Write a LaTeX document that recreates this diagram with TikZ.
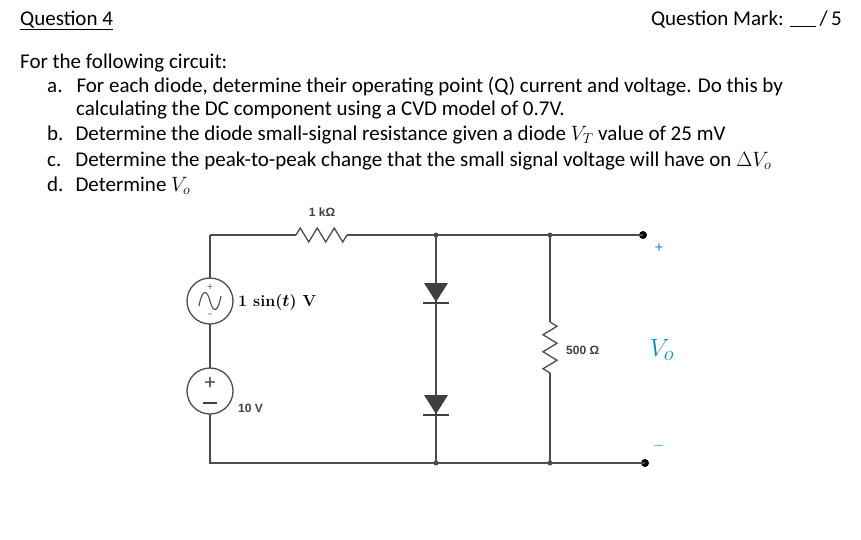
\documentclass[tikz,border=0pt]{standalone}
\usepackage{bm}
\usepackage{fontspec}
\setmainfont{Carlito}
\newfontfamily\arialf{Liberation Sans}
\newfontfamily\lmr{Latin Modern Roman}
\usetikzlibrary{decorations.pathmorphing}
\begin{document}
\begin{tikzpicture}[x=1pt,y=-1pt,
  txt/.style={anchor=base west,inner sep=0pt,font=\fontsize{21}{24}\selectfont},
  wire/.style={draw=black!70,line width=1.3pt},
  dot/.style={circle,fill=black!70,inner sep=0pt,minimum size=5pt},
  tdot/.style={circle,fill=black,inner sep=0pt,minimum size=8pt},
  src/.style={circle,draw=black!70,line width=1.3pt,minimum size=46pt,inner sep=0pt,fill=white},
  res/.style={wire,decorate,decoration={zigzag,segment length=17pt,amplitude=7pt}},
  lbl/.style={font=\arialf\bfseries\fontsize{12}{14}\selectfont,text=black!75,inner sep=0pt},
  cy/.style={text=cyan!70!blue,inner sep=0pt}]
\useasboundingbox (0,0) rectangle (861,539);
\node[txt] at (20,25) {\underline{Question 4}};
\node[txt,anchor=base east] at (842,25) {Question Mark: \underline{\hspace{26pt}}\,/\,5};
\node[txt] at (20,68) {For the following circuit:};
\node[txt] at (47,92) {a.\hspace{14pt}For each diode, determine their operating point (Q) current and voltage. Do this by};
\node[txt] at (76,115) {calculating the DC component using a CVD model of 0.7V.};
\node[txt] at (47,140) {b.\hspace{12pt}Determine the diode small-signal resistance given a diode $V_T$ value of 25 mV};
\node[txt] at (47,166) {c.\hspace{14pt}Determine the peak-to-peak change that the small signal voltage will have on $\Delta V_o$};
\node[txt] at (47,191) {d.\hspace{12pt}Determine $V_o$};
% circuit nodes
\coordinate (tl) at (210,235);
\coordinate (bl) at (210,463);
\node[dot] (dt) at (436,235) {};
\node[dot] (db) at (436,463) {};
\node[dot] (rt) at (550,235) {};
\node[dot] (rb) at (550,463) {};
\node[tdot] (ot) at (643,235) {};
\node[tdot] (ob) at (645,463) {};
\coordinate (r1a) at (296,235);
\coordinate (r1b) at (347,235);
\coordinate (r2a) at (550,322);
\coordinate (r2b) at (550,373);
\draw[wire] (tl) -- (r1a);
\draw[res] (r1a) -- (r1b);
\draw[wire] (r1b) -- (ot.center);
\draw[wire] (tl) -- (bl) -- (ob.center);
\draw[wire] (dt.center) -- (db.center);
\draw[wire] (rt.center) -- (r2a);
\draw[res] (r2a) -- (r2b);
\draw[wire] (r2b) -- (rb.center);
% diodes
\foreach \y in {283,395}{
  \fill[black!75] (424,\y) -- (448,\y) -- (436,\y+19) -- cycle;
  \draw[black!75,line width=1.3pt] (423,\y+20) -- (449,\y+20);
}
% sources
\node[src] (ac) at (210,301) {};
\draw[black!70,line width=1.1pt] (199,306) .. controls (202,289) and (207,289) .. (210,301) .. controls (213,313) and (218,313) .. (221,296);
\node[font=\fontsize{11}{11}\selectfont,text=black!60,inner sep=0pt] at (210,287) {+};
\node[font=\fontsize{11}{11}\selectfont,text=black!60,inner sep=0pt] at (210,316) {--};
\node[src] (dc) at (210,391) {};
\node[font=\fontsize{22}{22}\selectfont,inner sep=0pt,text=black!75] at (210,383) {+};
\draw[black!75,line width=1.4pt] (203,403) -- (217,403);
% labels
\node[lbl] at (322,212) {1 kΩ};
\node[inner sep=0pt,anchor=west,font=\lmr\bfseries\fontsize{16}{18}\selectfont] at (238,302) {1 sin($\bm{t}$) V};
\node[lbl,anchor=west] at (238,408) {10 V};
\node[lbl,anchor=west] at (566,350) {500 Ω};
\node[cy,font=\fontsize{16}{16}\selectfont] at (659,248) {+};
\node[cy,font=\fontsize{28}{28}\selectfont] at (662,350) {$V_o$};
\node[cy,font=\fontsize{14}{14}\selectfont] at (659,446) {$-$};
\end{tikzpicture}
\end{document}
